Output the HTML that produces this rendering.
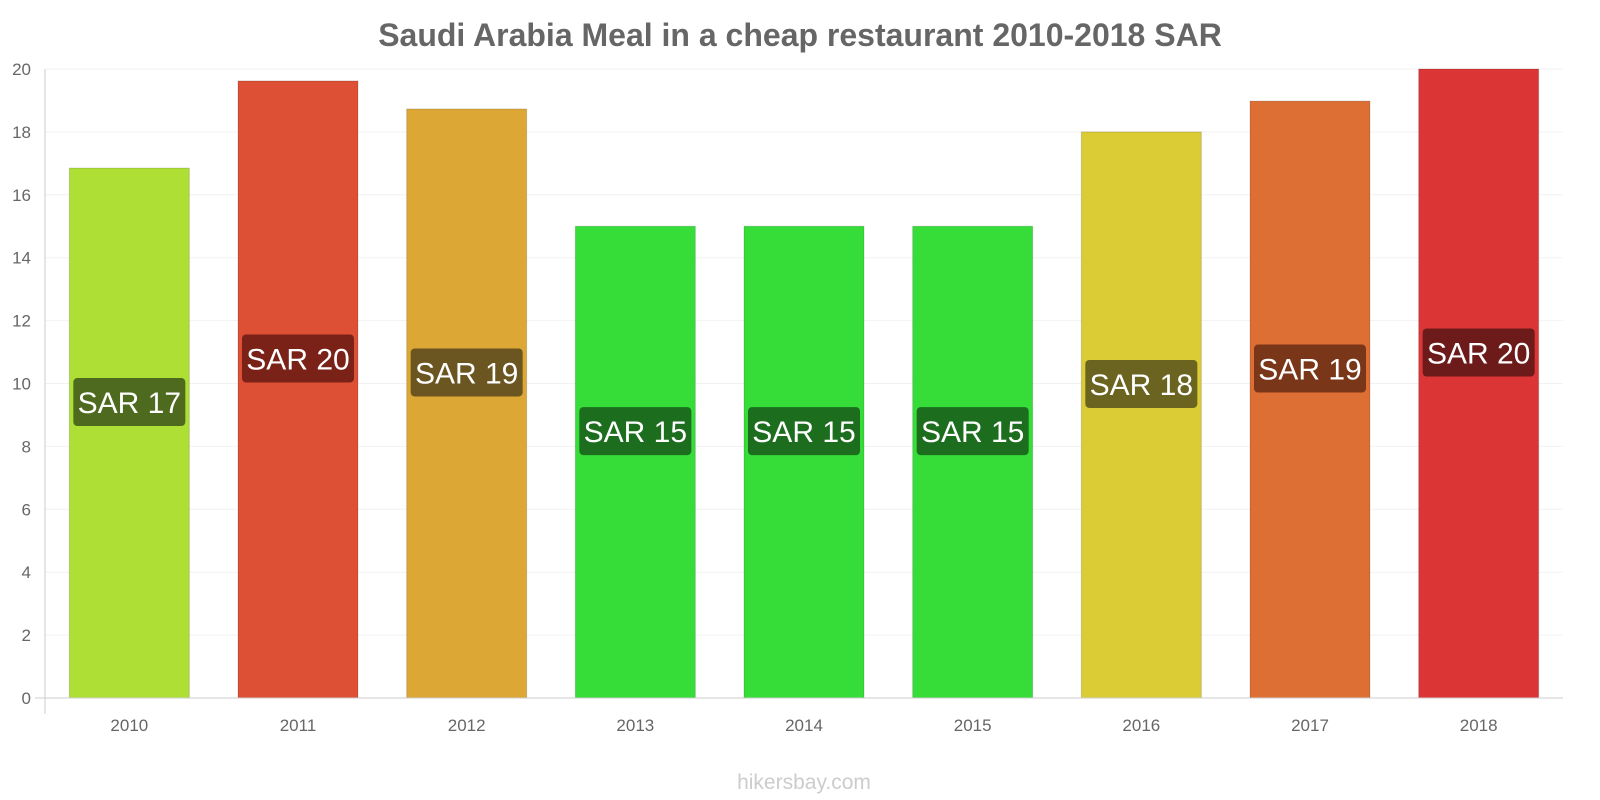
<!DOCTYPE html>
<html><head><meta charset="utf-8"><style>
html,body{margin:0;padding:0;background:#fff;}
svg{display:block;font-family:"Liberation Sans",sans-serif;}
</style></head><body>
<svg id="chart" width="1600" height="800" viewBox="0 0 1600 800">
<text x="800" y="46" text-anchor="middle" font-size="32" font-weight="bold" fill="#666">Saudi Arabia Meal in a cheap restaurant 2010-2018 SAR</text>
<g id="grid"></g><g id="bars"></g><g id="labels"></g><g id="axes"></g>
<text x="804" y="789" text-anchor="middle" font-size="21" fill="#ccc">hikersbay.com</text>
</svg>
<script>
const categories=["2010","2011","2012","2013","2014","2015","2016","2017","2018"];
const values=[16.85,19.62,18.73,15,15,15,18,18.98,20];
const valueLabels=["SAR 17","SAR 20","SAR 19","SAR 15","SAR 15","SAR 15","SAR 18","SAR 19","SAR 20"];
const barColors=["#aedf34","#dd5035","#dca734","#36dd39","#36dd39","#36dd39","#dbcb35","#dd6f35","#dc3535"];
const labelColors=["#4e6a1e","#7a2218","#6b5520","#1c6d1e","#1c6d1e","#1c6d1e","#6b6320","#7a3618","#6c1a1a"];
const yTicks=[0,2,4,6,8,10,12,14,16,18,20];
const NS="http://www.w3.org/2000/svg";
const x0=45,x1=1563,yb=698,yt=69,yMax=20;
const bw=(x1-x0)/categories.length;
const y=v=>yb-(v/yMax)*(yb-yt);
const xc=i=>x0+bw*(i+0.5);
function mk(t,a,p){const e=document.createElementNS(NS,t);for(const k in a)e.setAttribute(k,a[k]);p.appendChild(e);return e;}
const grid=document.getElementById('grid'),bars=document.getElementById('bars'),labels=document.getElementById('labels'),axes=document.getElementById('axes');
yTicks.forEach(t=>{
 const l=mk('line',{x1:x0,x2:x1,y1:y(t),y2:y(t),stroke:'#f2f2f2','stroke-width':1},grid);
 
 
 const tx=mk('text',{x:x0-14,y:y(t)+6,'text-anchor':'end','font-size':17,fill:'#666'},axes);
 tx.textContent=t;
 
 
});
const ya=mk('line',{x1:x0,x2:x0,y1:yt,y2:714,stroke:'#ccc'},axes);


const xa=mk('line',{x1:x0-10,x2:x1,y1:yb,y2:yb,stroke:'#ccc'},axes);


categories.forEach((c,i)=>{
 const v=values[i];
 const r=mk('rect',{x:xc(i)-60,y:y(v),width:120,height:yb-y(v),fill:barColors[i],stroke:'rgba(0,0,0,0.15)','stroke-width':1},bars);
 
 
 const cy=(y(v)+yb)/2-31;
 const g=mk('g',{},labels);
 
 
 mk('rect',{x:xc(i)-56,y:cy-24,width:112,height:48,rx:4,fill:labelColors[i]},g);
 const t=mk('text',{x:xc(i),y:cy+11,'text-anchor':'middle','font-size':30,fill:'#fff'},g);
 t.textContent=valueLabels[i];
 const xt=mk('text',{x:xc(i),y:731,'text-anchor':'middle','font-size':17,fill:'#666'},axes);
 xt.textContent=c;
 
 
});
</script>
</body></html>
